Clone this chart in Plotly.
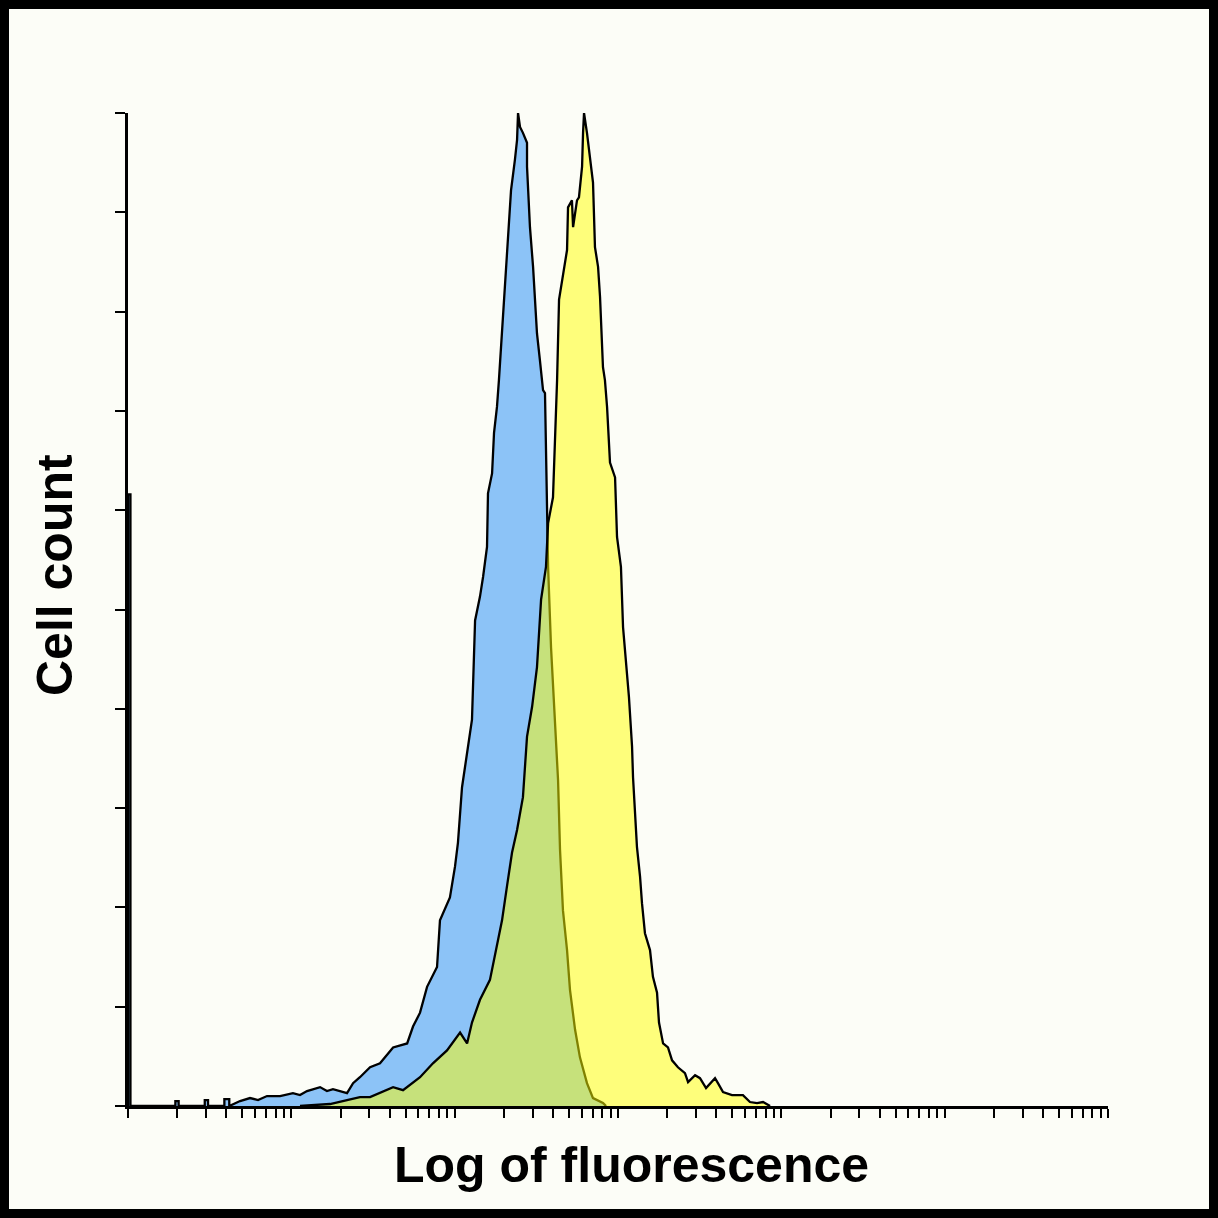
import plotly.graph_objects as go

# x values are log10 of fluorescence (decades), y values are cell counts (% of peak)
blue_log = [0.0, 0.0, 0.015, 0.015,
            0.29, 0.29, 0.31, 0.31, 0.47, 0.47, 0.49, 0.49,
            0.59, 0.59, 0.62, 0.62, 0.686, 0.747, 0.796, 0.851, 0.931,
            1.010, 1.053, 1.096, 1.176, 1.218, 1.255, 1.341, 1.378, 1.420,
            1.482, 1.543, 1.623, 1.709, 1.745, 1.788, 1.831, 1.892, 1.910,
            1.971, 2.002, 2.020, 2.045, 2.076, 2.106, 2.125, 2.155, 2.174,
            2.198, 2.204, 2.229, 2.241, 2.259, 2.271, 2.290, 2.308, 2.320,
            2.345, 2.369, 2.382, 2.388,
            2.400, 2.418, 2.443, 2.443, 2.461, 2.480, 2.504, 2.522, 2.541,
            2.553, 2.565, 2.572, 2.590, 2.614, 2.633, 2.645, 2.663, 2.688,
            2.706, 2.737, 2.767, 2.810, 2.847, 2.908, 2.927]
blue_count = [0, 61.6, 61.6, 0,
              0, 0.5, 0.5, 0, 0, 0.6, 0.6, 0,
              0, 0.7, 0.7, 0, 0.5, 0.8, 0.6, 1.0, 1.0,
              1.3, 1.1, 1.5, 1.9, 1.5, 1.7, 1.3, 2.3, 2.9,
              3.9, 4.3, 5.9, 6.3, 8.0, 9.4, 12.0, 14.0, 18.7,
              21.0, 24.1, 26.5, 32.1, 35.5, 38.9, 48.9, 51.3, 53.3,
              56.3, 61.7, 63.7, 67.8, 70.4, 73.1, 77.8, 82.9, 86.2,
              92.2, 95.3, 97.3, 100.0,
              98.6, 98.0, 97.0, 94.6, 88.5, 84.5, 77.8, 75.1, 72.1,
              71.8, 59.0, 54.3, 46.2, 37.9, 32.8, 25.8, 19.7, 15.7,
              11.7, 7.7, 4.9, 2.3, 0.8, 0.3, 0]

yellow_log = [1.053, 1.237, 1.341, 1.420, 1.482, 1.543, 1.623, 1.684, 1.788,
              1.867, 1.953, 2.033, 2.076, 2.106, 2.155, 2.216, 2.259, 2.290,
              2.320, 2.351, 2.382, 2.418, 2.443, 2.474, 2.504, 2.529, 2.559,
              2.572, 2.602, 2.614, 2.627, 2.639, 2.657, 2.669, 2.688, 2.694,
              2.718, 2.725, 2.749, 2.761, 2.780, 2.786, 2.792,
              2.810, 2.829, 2.847, 2.859, 2.878, 2.890, 2.908, 2.920, 2.933,
              2.951, 2.982, 2.994, 3.018, 3.031, 3.055, 3.067, 3.086, 3.092,
              3.116, 3.135, 3.147, 3.165, 3.196, 3.214, 3.239, 3.251, 3.276,
              3.306, 3.331, 3.367, 3.410, 3.429, 3.472, 3.502, 3.539, 3.594,
              3.612, 3.643, 3.698, 3.765, 3.808, 3.851, 3.888, 3.931]
yellow_count = [0, 0.2, 0.6, 0.9, 0.9, 1.3, 1.9, 1.6, 2.9,
                4.3, 5.6, 7.4, 6.3, 8.4, 10.7, 12.7, 16.0, 18.7,
                22.1, 25.5, 27.8, 31.1, 37.2, 40.2, 44.2, 51.0, 54.3,
                58.7, 61.3, 67.1, 73.1, 81.2, 83.2, 84.5, 86.2, 90.5,
                91.2, 88.5, 91.2, 91.5, 94.6, 98.0, 100.0,
                98.0, 95.3, 93.0, 86.5, 84.5, 81.5, 74.4, 73.1, 70.4,
                64.8, 63.3, 57.3, 54.3, 48.2, 43.9, 41.2, 36.2, 33.1,
                26.1, 23.1, 20.4, 17.4, 15.7, 13.0, 11.4, 8.4, 6.3,
                5.9, 4.6, 3.9, 3.3, 2.4, 3.1, 2.8, 1.8, 2.8,
                2.3, 1.4, 1.1, 1.1, 0.4, 0.3, 0.4, 0]

x_tickvals = [k * 10 ** d for d in range(6) for k in range(1, 10)] + [10 ** 6]
y_tickvals = list(range(0, 101, 10))

fig = go.Figure()
fig.add_trace(go.Scatter(
    x=[10 ** v for v in blue_log], y=blue_count,
    mode='lines', fill='tozeroy',
    fillcolor='#8cc3f7',
    line=dict(color='black', width=2.3),
    showlegend=False,
))
fig.add_trace(go.Scatter(
    x=[10 ** v for v in yellow_log], y=yellow_count,
    mode='lines', fill='tozeroy',
    fillcolor='rgba(255,255,0,0.5)',
    line=dict(color='black', width=2.3),
    showlegend=False,
))

fig.update_layout(
    width=1218, height=1218,
    margin=dict(l=128, r=110, t=113, b=112),
    paper_bgcolor='#fcfdf7',
    plot_bgcolor='#fcfdf7',
    font=dict(family='Arial, Liberation Sans', color='black'),
    xaxis=dict(
        type='log', range=[0, 6],
        tickvals=x_tickvals, showticklabels=False,
        ticks='outside', ticklen=9, tickwidth=2, tickcolor='black',
        showline=True, linecolor='black', linewidth=2.5,
        showgrid=False, zeroline=False,
    ),
    yaxis=dict(
        range=[0, 100],
        tickvals=y_tickvals, showticklabels=False,
        ticks='outside', ticklen=10, tickwidth=2, tickcolor='black',
        showline=True, linecolor='black', linewidth=2.5,
        showgrid=False, zeroline=False,
    ),
    annotations=[
        dict(text='<b>Cell count</b>', xref='paper', yref='paper',
             x=-0.0745, y=0.5347, textangle=-90, showarrow=False,
             xanchor='center', yanchor='middle', font=dict(size=50)),
        dict(text='<b>Log of fluorescence</b>', xref='paper', yref='paper',
             x=0.5133, y=-0.0594, showarrow=False,
             xanchor='center', yanchor='middle', font=dict(size=50)),
    ],
    shapes=[
        dict(type='rect', xref='paper', yref='paper',
             x0=-0.12602, x1=1.10765, y0=-0.10826, y1=1.10926,
             line=dict(color='black', width=9)),
    ],
)

fig.write_html(
    "out.html",
    config={'displayModeBar': False},
    post_script="document.body.style.margin='0';document.body.style.overflow='hidden';",
)
